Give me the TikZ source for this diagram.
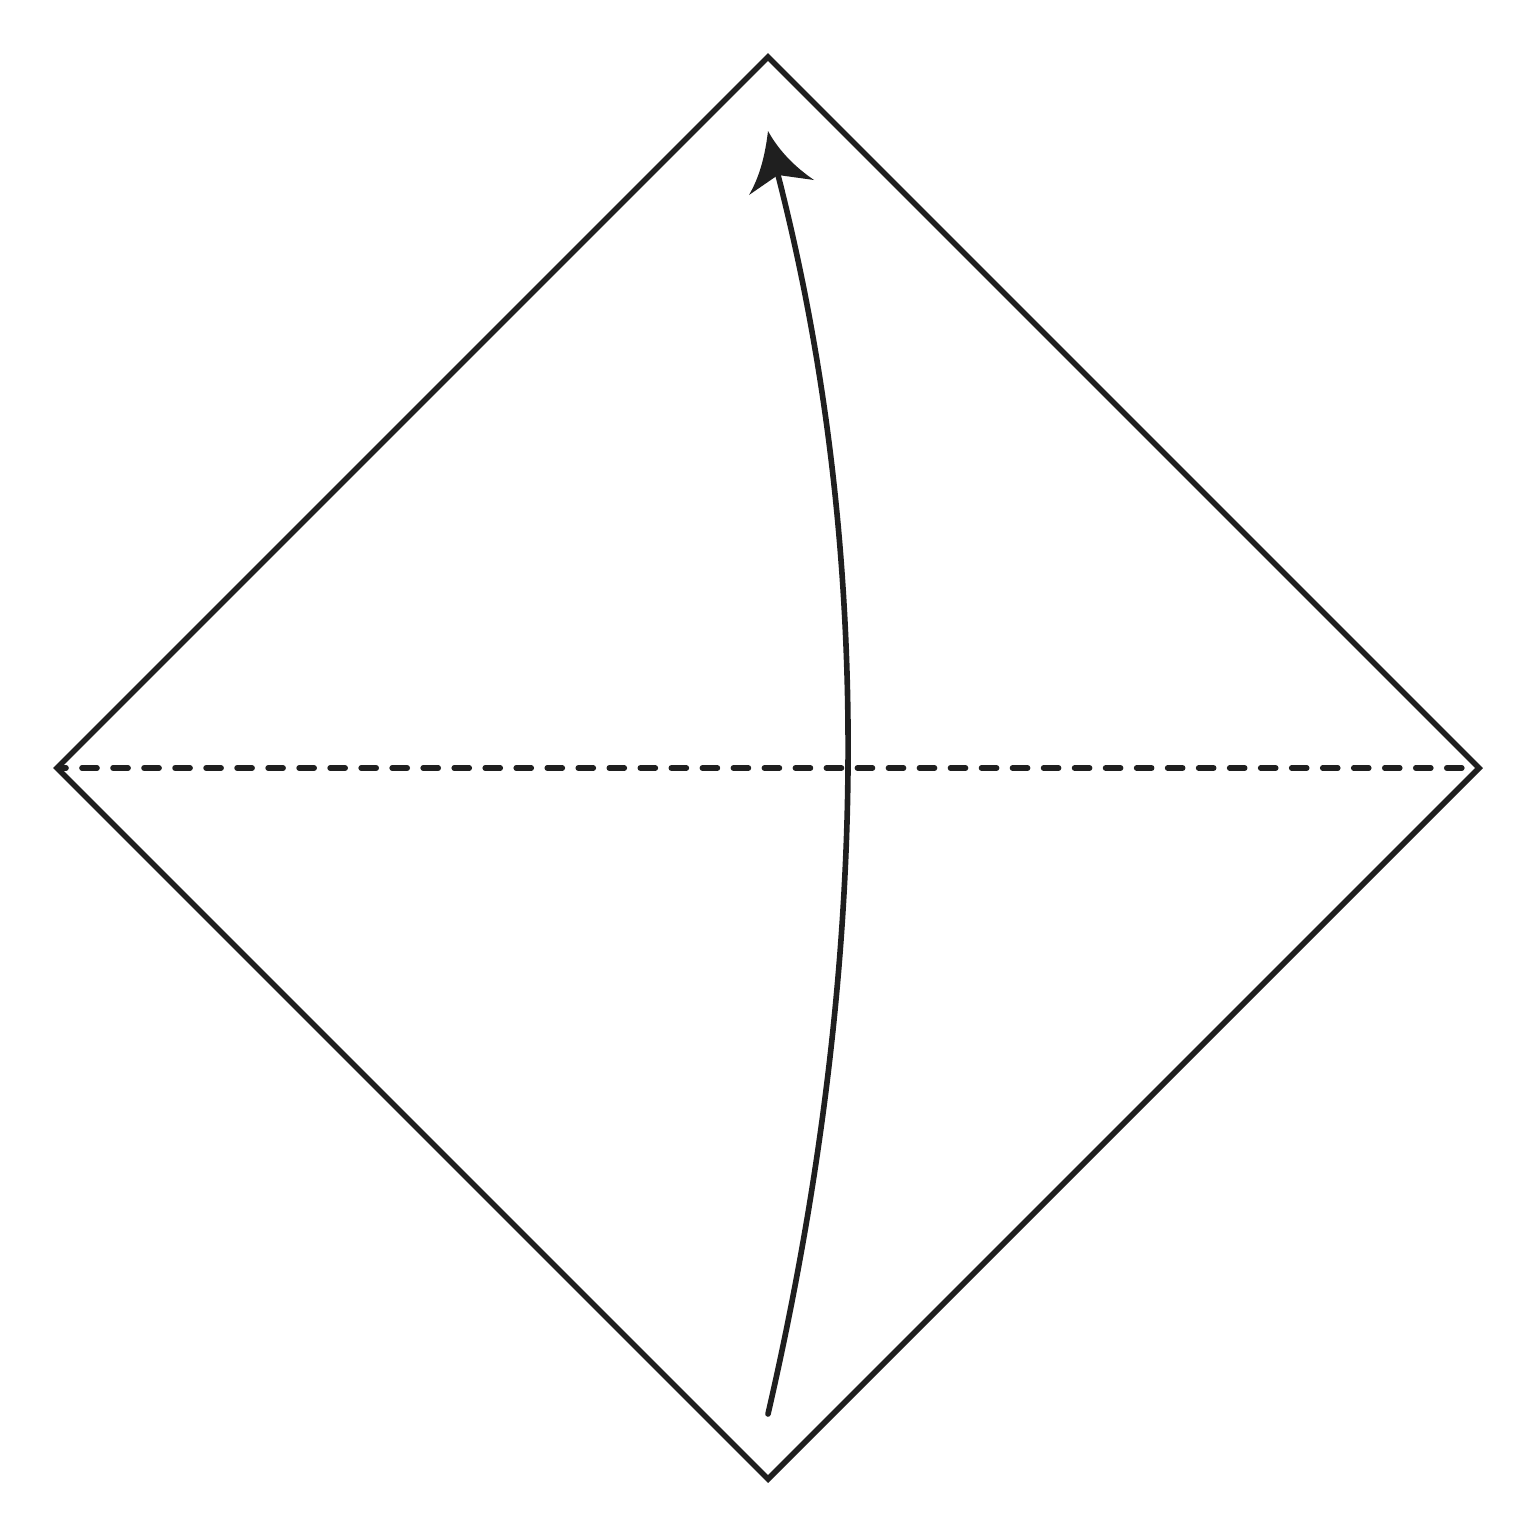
\documentclass[tikz,border=0pt]{standalone}
\begin{document}
\begin{tikzpicture}[x=0.01cm,y=-0.01cm,
  outline/.style={line width=1.6pt,draw=black!88},
  foldline/.style={line width=1.6pt,draw=black!88,line cap=round,dash pattern=on 0.15cm off 0.16cm,dash phase=0.09cm},
  arrowshaft/.style={line width=1.6pt,draw=black!88,line cap=round},
  arrowtip/.style={fill=black!88}]
\useasboundingbox (0,0) rectangle (1536,1536);
\coordinate (T) at (768,57);
\coordinate (L) at (57,768);
\coordinate (R) at (1479,768);
\coordinate (B) at (768,1479);
\coordinate (S) at (768,1414);
\coordinate (E) at (778,175);
\coordinate (tip) at (768,131);
\coordinate (rb) at (814,180);
\coordinate (lb) at (749,195);
\draw[outline] (T) -- (R) -- (B) -- (L) -- cycle;
\draw[foldline] (60,768) -- (1476,768);
\draw[arrowshaft] (S) .. controls (871.3,965.7) and (874.7,552.7) .. (E);
\fill[arrowtip] (tip) .. controls (779,151) and (795,167) .. (rb) -- (E) -- (lb) .. controls (759,178) and (765,157) .. (tip) -- cycle;
\end{tikzpicture}
\end{document}
